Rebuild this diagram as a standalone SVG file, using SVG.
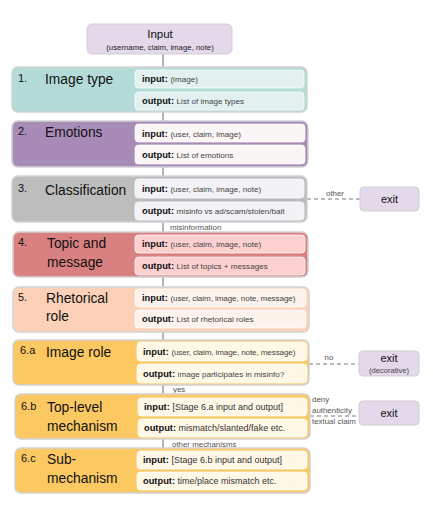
<svg xmlns="http://www.w3.org/2000/svg" width="433" height="517" viewBox="0 0 433 517">
<style>
text{font-family:"Liberation Sans",Arial,sans-serif;}
.outer{stroke:#d2d2d2;stroke-width:1.5;}
.inner{stroke:#ffffff;stroke-width:1;stroke-opacity:0.7;}
.num{font-size:11px;fill:#111;}
.title{font-size:13.8px;fill:#111;}
.lab{font-size:9.3px;font-weight:bold;fill:#111;}
.val{font-size:8.1px;font-weight:normal;fill:#444;}
.valb{font-size:9px;font-weight:normal;fill:#333;}
.conn{stroke:#8a8a8a;stroke-width:1.3;fill:none;}
.dash{stroke:#7a7a7a;stroke-width:1.2;stroke-dasharray:4 3;fill:none;}
.clab{font-size:7.9px;fill:#555;}
.lav{fill:#e4d8eb;stroke:#cfcfcf;stroke-width:1;}
.exit{font-size:11px;fill:#111;text-anchor:middle;}
</style>
<rect width="433" height="517" fill="#ffffff"/>
<g id="connectors">
<line class="conn" x1="163" y1="54" x2="163" y2="67"/>
<line class="conn" x1="163" y1="112" x2="163" y2="121"/>
<line class="conn" x1="163" y1="167" x2="163" y2="176"/>
<line class="conn" x1="163" y1="222" x2="163" y2="232"/>
<line class="conn" x1="163" y1="277" x2="163" y2="287"/>
<line class="conn" x1="163" y1="332" x2="163" y2="340"/>
<line class="conn" x1="163" y1="385" x2="163" y2="394"/>
<line class="conn" x1="163" y1="439" x2="163" y2="448"/>
<line class="dash" x1="307" y1="199" x2="360" y2="199"/>
<line class="dash" x1="309" y1="364" x2="359" y2="364"/>
<line class="dash" x1="310" y1="416" x2="359" y2="416"/>
<text class="clab" x="170" y="230">misinformation</text>
<text class="clab" x="335" y="196" text-anchor="middle">other</text>
<text class="clab" x="329" y="360" text-anchor="middle">no</text>
<text class="clab" x="173" y="392">yes</text>
<text class="clab" x="172" y="447">other mechanisms</text>
<text class="clab" x="312" y="402">deny</text>
<text class="clab" x="312" y="413">authenticity</text>
<text class="clab" x="312" y="424">textual claim</text>
</g>
<g id="input">
<rect class="lav" x="87" y="24" width="145" height="30" rx="5"/>
<text x="160" y="38" text-anchor="middle" font-size="11.5" fill="#111">Input</text>
<text x="160" y="50" text-anchor="middle" font-size="7.8" fill="#222">(username, claim, image, note)</text>
</g>
<g id="n1">
<rect class="outer" x="12" y="67" width="295" height="45" rx="6" fill="#b3dcd8"/>
<rect class="inner" x="135" y="70" width="169" height="18" rx="3.5" fill="#e2f1f0"/>
<rect class="inner" x="135" y="92" width="169" height="18" rx="3.5" fill="#e2f1f0"/>
<text class="num" x="18" y="82">1.</text>
<text class="title" x="45" y="84">Image type</text>
<text class="lab" x="142" y="82">input: <tspan class="val">(image)</tspan></text>
<text class="lab" x="142" y="104">output: <tspan class="val">List of image types</tspan></text>
</g>
<g id="n2">
<rect class="outer" x="12" y="121" width="296" height="46" rx="6" fill="#a98bb8"/>
<rect class="inner" x="135" y="124" width="170" height="18" rx="3.5" fill="#faf6f6"/>
<rect class="inner" x="135" y="145" width="170" height="19" rx="3.5" fill="#faf6f6"/>
<text class="num" x="18" y="135">2.</text>
<text class="title" x="45" y="137">Emotions</text>
<text class="lab" x="142" y="137">input: <tspan class="val">(user, claim, image)</tspan></text>
<text class="lab" x="142" y="158">output: <tspan class="val">List of emotions</tspan></text>
</g>
<g id="n3">
<rect class="outer" x="12" y="176" width="295" height="46" rx="6" fill="#bdbdbd"/>
<rect class="inner" x="135" y="179" width="169" height="19" rx="3.5" fill="#f2f2f7"/>
<rect class="inner" x="135" y="202" width="169" height="18" rx="3.5" fill="#f2f2f7"/>
<text class="num" x="18" y="192">3.</text>
<text class="title" x="45" y="195">Classification</text>
<text class="lab" x="142" y="192">input: <tspan class="val">(user, claim, image, note)</tspan></text>
<text class="lab" x="142" y="214">output: <tspan class="val">misinfo vs ad/scam/stolen/bait</tspan></text>
</g>
<g id="exit1">
<rect class="lav" x="360" y="187" width="59" height="24" rx="4"/>
<text class="exit" x="389.5" y="203">exit</text>
</g>
<g id="n4">
<rect class="outer" x="13" y="232" width="295" height="45" rx="6" fill="#d98080"/>
<rect class="inner" x="135" y="235" width="170" height="18" rx="3.5" fill="#fdd0d0"/>
<rect class="inner" x="135" y="257" width="170" height="18" rx="3.5" fill="#fdd0d0"/>
<text class="num" x="18" y="246">4.</text>
<text class="title" x="47" y="248">Topic and</text>
<text class="title" x="47" y="267">message</text>
<text class="lab" x="142" y="247">input: <tspan class="val">(user, claim, image, note)</tspan></text>
<text class="lab" x="142" y="269">output: <tspan class="val">List of topics + messages</tspan></text>
</g>
<g id="n5">
<rect class="outer" x="13" y="287" width="296" height="45" rx="6" fill="#fcd1b8"/>
<rect class="inner" x="135" y="289" width="171" height="18" rx="3.5" fill="#fdf3ec"/>
<rect class="inner" x="135" y="310" width="171" height="18" rx="3.5" fill="#fdf3ec"/>
<text class="num" x="18" y="301">5.</text>
<text class="title" x="46" y="303">Rhetorical</text>
<text class="title" x="46" y="321">role</text>
<text class="lab" x="142" y="301">input: <tspan class="val" textLength="125">(user, claim, image, note, message)</tspan></text>
<text class="lab" x="142" y="322">output: <tspan class="val">List of rhetorical roles</tspan></text>
</g>
<g id="n6a">
<rect class="outer" x="13" y="340" width="296" height="45" rx="6" fill="#fcc862"/>
<rect class="inner" x="137" y="342" width="170" height="19" rx="3.5" fill="#fff8e6"/>
<rect class="inner" x="137" y="364" width="170" height="19" rx="3.5" fill="#fff8e6"/>
<text class="num" x="20" y="354">6.a</text>
<text class="title" x="46" y="357">Image role</text>
<text class="lab" x="143" y="355">input: <tspan class="val" textLength="124">(user, claim, image, note,  message)</tspan></text>
<text class="lab" x="143" y="377">output: <tspan class="val">image participates in misinfo?</tspan></text>
</g>
<g id="exit2">
<rect class="lav" x="359" y="351" width="60" height="25" rx="4"/>
<text class="exit" x="389" y="362">exit</text>
<text x="389" y="372.5" text-anchor="middle" font-size="7.6" fill="#444">(decorative)</text>
</g>
<g id="n6b">
<rect class="outer" x="15" y="394" width="295" height="45" rx="6" fill="#fcc862"/>
<rect class="inner" x="138" y="398" width="169" height="18" rx="3.5" fill="#fff8e6"/>
<rect class="inner" x="138" y="419" width="169" height="18" rx="3.5" fill="#fff8e6"/>
<text class="num" x="21" y="410">6.b</text>
<text class="title" x="47" y="412">Top-level</text>
<text class="title" x="47" y="431">mechanism</text>
<text class="lab" x="144" y="410">input: <tspan class="valb" font-size="8.2">[Stage 6.a input and output]</tspan></text>
<text class="lab" x="144" y="431">output: <tspan class="valb">mismatch/slanted/fake etc.</tspan></text>
</g>
<g id="exit3">
<rect class="lav" x="359" y="401" width="60" height="24" rx="4"/>
<text class="exit" x="389" y="417">exit</text>
</g>
<g id="n6c">
<rect class="outer" x="15" y="448" width="295" height="45" rx="6" fill="#fcc862"/>
<rect class="inner" x="137" y="451" width="170" height="18" rx="3.5" fill="#fff8e6"/>
<rect class="inner" x="137" y="472" width="170" height="18" rx="3.5" fill="#fff8e6"/>
<text class="num" x="21" y="462">6.c</text>
<text class="title" x="47" y="464">Sub-</text>
<text class="title" x="47" y="483">mechanism</text>
<text class="lab" x="143" y="463">input: <tspan class="valb" font-size="8.2">[Stage 6.b input and output]</tspan></text>
<text class="lab" x="143" y="484">output: <tspan class="valb">time/place mismatch etc.</tspan></text>
</g>
</svg>
